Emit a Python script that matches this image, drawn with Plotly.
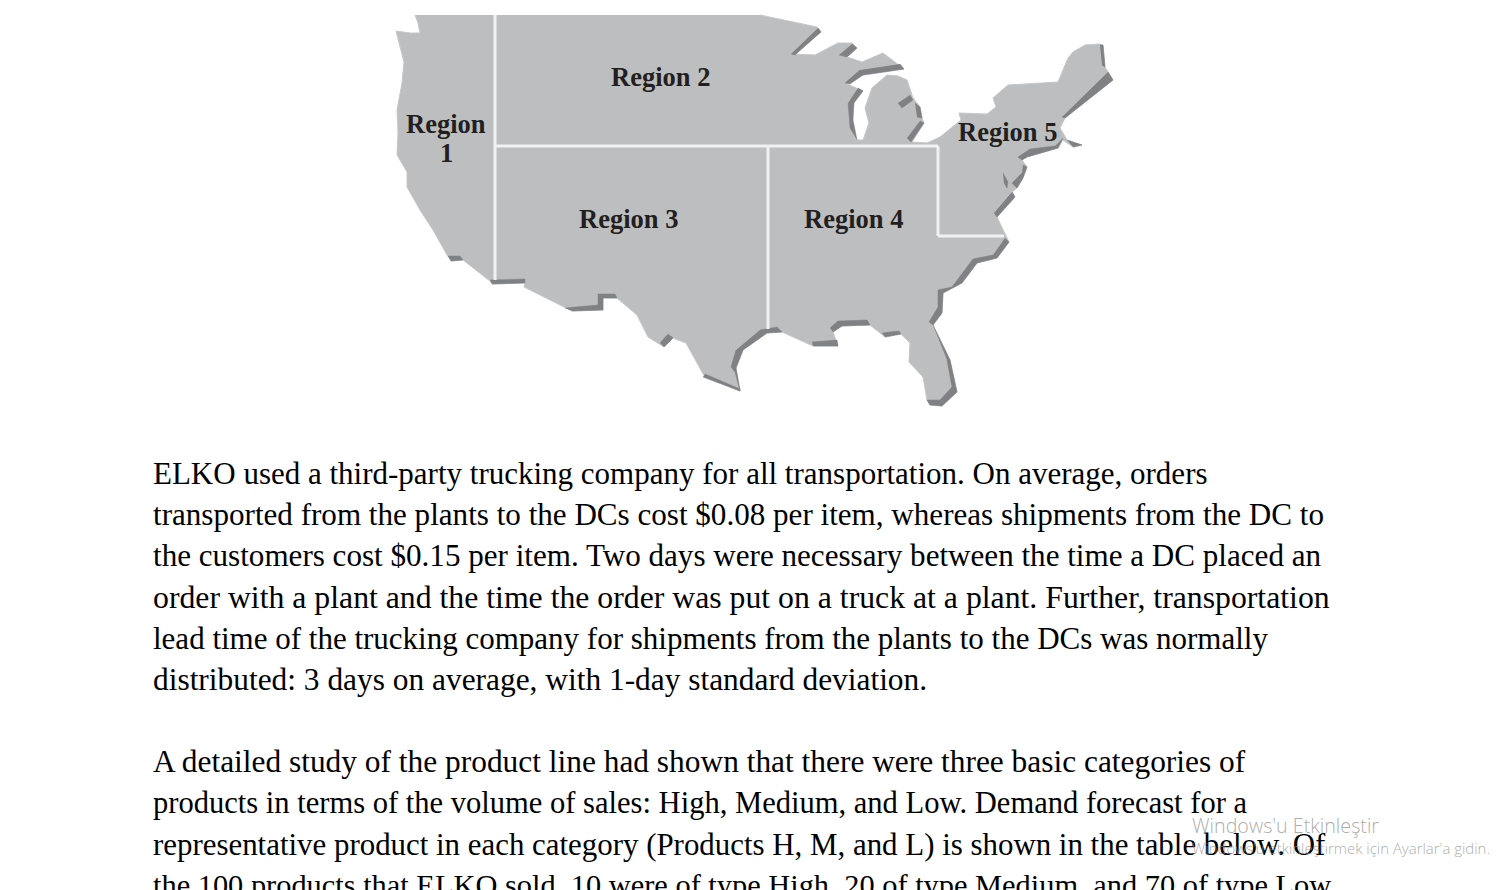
"""ELKO case page: region map with the text underneath."""

import plotly.graph_objects as go

WIDTH = 1496
HEIGHT = 890

# map silhouette, clockwise from the north-west corner
outline = [
    (415, 15), (418, 23), (420, 33), (410, 33), (396, 31), (399, 43), (404, 62), (402, 83),
    (397, 110), (398, 133), (397, 155), (407, 172), (407, 187), (420, 210), (433, 230),
    (447, 255), (451, 261), (463, 260), (490, 281), (492, 284), (525, 283), (524, 287),
    (567, 309), (572, 311), (603, 310), (603, 298), (617, 298), (637, 315), (648, 337),
    (664, 347), (673, 338), (686, 343), (702, 372), (705, 377), (740, 391), (736, 368),
    (743, 350), (767, 333), (782, 332), (813, 346), (838, 346), (833, 332), (842, 326),
    (870, 325), (885, 337), (901, 334), (910, 343), (909, 362), (923, 377), (927, 400),
    (930, 405), (942, 406), (957, 392), (950, 360), (933, 325), (942, 313), (943, 293),
    (962, 283), (977, 263), (997, 258), (1009, 242), (997, 217), (1015, 197), (1012, 192),
    (1017, 188), (1023, 178), (1027, 167), (1022, 160), (1027, 157), (1058, 148), (1063, 140),
    (1073, 147), (1082, 145), (1067, 140), (1060, 128), (1065, 118), (1113, 80), (1108, 72),
    (1105, 67), (1103, 45), (1099, 44), (1085, 45), (1073, 52), (1068, 58), (1058, 82),
    (1008, 85), (993, 98), (996, 107), (987, 114), (959, 113), (961, 120), (940, 137),
    (927, 143), (912, 142), (924, 123), (922, 118), (920, 107), (913, 98), (907, 80),
    (898, 76), (887, 75), (872, 88), (865, 108), (869, 123), (863, 140), (856, 140),
    (850, 128), (848, 103), (863, 91), (845, 83), (863, 75), (904, 69), (883, 53), (862, 62),
    (847, 57), (857, 48), (852, 43), (838, 43), (815, 55), (791, 54), (821, 32), (817, 27),
    (760, 15),
]

# darker bevel along the coasts, one list per strip
bevels = [
    [(818, 28), (821, 32), (795, 55), (791, 54)],
    [(852, 44), (857, 48), (847, 57), (839, 55)],
    [(900, 64), (904, 69), (863, 75), (850, 84), (845, 83), (860, 70)],
    [(858, 88), (863, 91), (854, 103), (853, 120), (857, 140), (850, 128), (848, 103)],
    [(910, 95), (913, 100), (902, 108), (898, 103)],
    [(915, 103), (920, 107), (922, 118), (917, 117)],
    [(920, 121), (924, 123), (911, 142), (907, 138)],
    [(1100, 45), (1103, 45), (1105, 67), (1102, 65)],
    [(1108, 72), (1113, 80), (1065, 118), (1062, 117)],
    [(1067, 140), (1082, 145), (1073, 147)],
    [(1063, 138), (1058, 148), (1027, 157), (1022, 160), (1018, 157), (1030, 149), (1055, 146)],
    [(1023, 165), (1027, 167), (1023, 178), (1017, 188), (1012, 183), (1022, 173)],
    [(1003, 173), (1008, 182), (1007, 188), (1004, 183)],
    [(1012, 192), (1015, 197), (997, 217), (994, 213)],
    [(1005, 238), (1009, 242), (997, 258), (977, 263), (962, 283), (943, 293), (942, 313),
     (933, 325), (929, 322), (938, 307), (938, 290), (952, 287), (973, 259), (993, 255)],
    [(933, 325), (950, 360), (957, 392), (942, 406), (930, 405), (927, 400), (940, 400),
     (952, 387), (947, 360)],
    [(760, 330), (777, 327), (782, 332), (767, 333), (743, 350), (736, 368), (740, 391),
     (735, 372), (731, 367), (736, 350)],
    [(812, 342), (837, 340), (838, 346), (813, 346)],
    [(830, 328), (838, 321), (867, 320), (870, 325), (842, 326), (833, 332)],
    [(882, 333), (899, 331), (901, 334), (885, 337)],
    [(448, 256), (460, 256), (463, 260), (451, 261)],
    [(490, 280), (525, 279), (525, 283), (492, 284)],
    [(565, 308), (598, 305), (598, 294), (615, 294), (617, 298), (603, 298), (603, 310), (572, 311)],
    [(660, 343), (668, 334), (673, 338), (664, 347)],
    [(705, 374), (740, 389), (740, 391), (703, 377)],
]

# white borders between the regions
borders = [
    [(495, 15), (495, 280)],
    [(495, 146), (938, 146)],
    [(768, 146), (768, 329)],
    [(938, 146), (938, 236)],
    [(938, 236), (1004, 236)],
]

region_labels = ["Region 2", "Region", "1", "Region 5", "Region 3", "Region 4"]
region_x = [660, 446, 446, 1007, 628, 853]
region_y = [77, 124, 153, 132, 219, 219]

body_lines = [
    "ELKO used a third-party trucking company for all transportation. On average, orders",
    "transported from the plants to the DCs cost $0.08 per item, whereas shipments from the DC to",
    "the customers cost $0.15 per item. Two days were necessary between the time a DC placed an",
    "order with a plant and the time the order was put on a truck at a plant. Further, transportation",
    "lead time of the trucking company for shipments from the plants to the DCs was normally",
    "distributed: 3 days on average, with 1-day standard deviation.",
    "A detailed study of the product line had shown that there were three basic categories of",
    "products in terms of the volume of sales: High, Medium, and Low. Demand forecast for a",
    "representative product in each category (Products H, M, and L) is shown in the table below. Of",
    "the 100 products that ELKO sold, 10 were of type High, 20 of type Medium, and 70 of type Low",
]
body_y = [473, 514, 555, 597, 638, 679, 761, 803, 844, 885]
# Liberation Serif runs narrower than the page font, so each line gets its own size
body_size = [31, 31.1, 31.1, 31.75, 31, 31.4, 31.4, 30.55, 30.9, 30.4]

watermark_lines = ["Windows'u Etkinleştir", "Windows'u etkinleştirmek için Ayarlar'a gidin."]
watermark_y = [825, 848]
watermark_size = [19.7, 14.95]


def polygons_xy(polygons):
    """Join point lists into one x and one y list, split by None."""
    xs, ys = [], []
    for points in polygons:
        xs += [p[0] for p in points] + [None]
        ys += [p[1] for p in points] + [None]
    return xs, ys


fig = go.Figure()

fig.add_trace(
    go.Scatter(
        x=[p[0] for p in outline],
        y=[p[1] for p in outline],
        mode="lines",
        fill="toself",
        fillcolor="#bdbec0",
        line=dict(color="#c6c7c9", width=1),
        hoverinfo="skip",
    )
)

bevel_x, bevel_y = polygons_xy(bevels)
fig.add_trace(
    go.Scatter(
        x=bevel_x,
        y=bevel_y,
        mode="lines",
        fill="toself",
        fillcolor="#808184",
        line=dict(color="#808184", width=0.5),
        hoverinfo="skip",
    )
)

border_x, border_y = polygons_xy(borders)
fig.add_trace(
    go.Scatter(
        x=border_x,
        y=border_y,
        mode="lines",
        line=dict(color="#f1f1f2", width=3),
        hoverinfo="skip",
    )
)

for label, x, y in zip(region_labels, region_x, region_y):
    fig.add_annotation(
        x=x, y=y, text=f"<b>{label}</b>", showarrow=False,
        font=dict(family="Liberation Serif", size=26.5, color="#231f20"),
        xanchor="center", yanchor="middle",
    )

for line, y, size in zip(body_lines, body_y, body_size):
    fig.add_annotation(
        x=153, y=y, text=line, showarrow=False, xshift=-2,
        font=dict(family="Liberation Serif", size=size, color="#000000"),
        xanchor="left", yanchor="middle",
    )

for line, y, size in zip(watermark_lines, watermark_y, watermark_size):
    fig.add_annotation(
        x=1191, y=y, text=line, showarrow=False, xshift=-1,
        font=dict(family="Open Sans", size=size, weight=300, color="rgba(150,150,150,0.8)"),
        xanchor="left", yanchor="middle",
    )

fig.update_xaxes(range=[0, WIDTH], visible=False)
fig.update_yaxes(range=[HEIGHT, 0], visible=False)
fig.update_layout(
    width=WIDTH,
    height=HEIGHT,
    margin=dict(l=0, r=0, t=0, b=0),
    showlegend=False,
    plot_bgcolor="white",
    paper_bgcolor="white",
)

fig.write_html(
    "out.html",
    config={"displayModeBar": False},
    post_script="document.body.style.margin='0';document.documentElement.style.overflow='hidden';",
)
